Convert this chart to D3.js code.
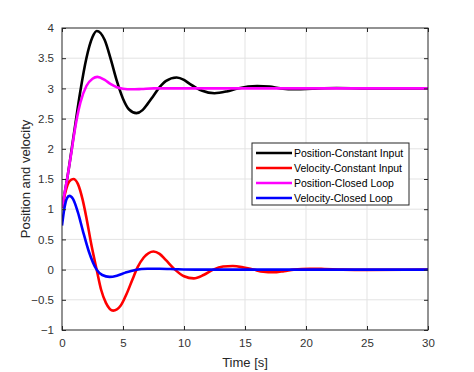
<!DOCTYPE html>
<html lang="en">
<head>
<meta charset="UTF-8">
<title>Position and velocity</title>
<script src="https://d3js.org/d3.v7.min.js"></script>
<style>
  body { margin: 0; background: #fff; }
  svg { display: block; font-family: Arial, "Liberation Sans", sans-serif; }
</style>
</head>
<body>
<svg id="chart"></svg>
<script>
// values
var posConstT = [0, 0.5, 1.0, 1.5, 2.0, 2.5, 2.85, 3.5, 4.0, 4.5, 5.0, 5.5, 6.1, 6.6, 7.0, 7.5, 8.0, 8.5, 9.4, 10.0, 10.5, 11.0, 11.5, 12.5, 13.5, 14.4, 16.0, 17.0, 17.9, 19.2, 20.5, 22.5, 25, 30];
var posConstV = [1.02, 1.6, 2.28, 2.95, 3.5, 3.85, 3.95, 3.8, 3.48, 3.12, 2.83, 2.65, 2.59, 2.64, 2.74, 2.88, 3.02, 3.12, 3.18, 3.14, 3.07, 3.01, 2.96, 2.92, 2.95, 3.0, 3.04, 3.03, 3.0, 2.985, 2.995, 3.007, 3.0, 3.0];

var velConstT = [0, 0.3, 0.6, 0.93, 1.3, 1.7, 2.0, 2.4, 2.84, 3.2, 3.6, 4.2, 4.8, 5.3, 5.8, 6.2, 6.7, 7.5, 8.0, 8.5, 9.26, 10.0, 10.8, 11.6, 12.4, 13.2, 14.0, 14.9, 15.7, 16.5, 17.3, 18.2, 19.0, 20.3, 21.5, 23, 25, 30];
var velConstV = [1.02, 1.3, 1.46, 1.5, 1.42, 1.15, 0.86, 0.42, 0.0, -0.33, -0.55, -0.68, -0.6, -0.4, -0.15, 0.04, 0.2, 0.3, 0.26, 0.16, 0.0, -0.11, -0.145, -0.09, 0.0, 0.05, 0.06, 0.035, 0.0, -0.035, -0.045, -0.025, 0.0, 0.015, 0.01, 0.0, -0.004, 0.0];

var posLoopT = [0, 0.5, 0.8, 1.0, 1.5, 2.0, 2.5, 2.9, 3.5, 4.0, 4.5, 5.0, 5.7, 6.5, 7.5, 9, 30];
var posLoopV = [1.03, 1.6, 1.98, 2.25, 2.76, 3.04, 3.16, 3.19, 3.14, 3.07, 3.02, 2.995, 2.985, 2.99, 3.0, 3.0, 3.0];

var velLoopT = [0, 0.2, 0.4, 0.6, 0.9, 1.3, 1.7, 2.2, 2.84, 3.3, 3.9, 4.5, 5.2, 6.0, 7.0, 8.0, 9.5, 11, 30];
var velLoopV = [0.73, 1.02, 1.18, 1.22, 1.17, 0.95, 0.65, 0.3, 0.0, -0.09, -0.12, -0.1, -0.05, -0.005, 0.015, 0.015, 0.005, 0.0, 0.0];

var seriesNames = ["Position-Constant Input", "Velocity-Constant Input", "Position-Closed Loop", "Velocity-Closed Loop"];
var seriesColors = ["#000000", "#ff0000", "#ff00ff", "#0000ff"];
var seriesT = [posConstT, velConstT, posLoopT, velLoopT];
var seriesV = [posConstV, velConstV, posLoopV, velLoopV];

var xTicks = [0, 5, 10, 15, 20, 25, 30];
var yTicks = [-1, -0.5, 0, 0.5, 1, 1.5, 2, 2.5, 3, 3.5, 4];

var W = 474, H = 372;
var margin = { top: 28, right: 46, bottom: 42, left: 62 };
var width = W - margin.left - margin.right,
    height = H - margin.top - margin.bottom;

var svg = d3.select("#chart").attr("width", W).attr("height", H);
var g = svg.append("g").attr("transform", "translate(" + margin.left + "," + margin.top + ")");

var x = d3.scaleLinear().domain([0, 30]).range([0, width]);
var y = d3.scaleLinear().domain([-1, 4]).range([height, 0]);

// grid
g.append("g").selectAll("line").data(xTicks.slice(1, -1)).enter().append("line")
  .attr("x1", d => x(d)).attr("x2", d => x(d)).attr("y1", 0).attr("y2", height)
  .attr("stroke", "#e3e3e3").attr("stroke-width", 1);
g.append("g").selectAll("line").data(yTicks.slice(1, -1)).enter().append("line")
  .attr("y1", d => y(d)).attr("y2", d => y(d)).attr("x1", 0).attr("x2", width)
  .attr("stroke", "#e3e3e3").attr("stroke-width", 1);

// curves
g.append("clipPath").attr("id", "clip").append("rect")
  .attr("width", width).attr("height", height);

var line = d3.line()
  .x(d => x(d[0])).y(d => y(d[1]))
  .curve(d3.curveMonotoneX);

var plot = g.append("g").attr("clip-path", "url(#clip)");
seriesT.forEach(function (ts, i) {
  var pts = ts.map((t, j) => [t, seriesV[i][j]]);
  plot.append("path").datum(pts)
    .attr("d", line)
    .attr("fill", "none")
    .attr("stroke", seriesColors[i])
    .attr("stroke-width", 2.6)
    .attr("stroke-linejoin", "round");
});

// axes (inner ticks on all sides, MATLAB style)
var axisColor = "#262626";
function styleAxis(sel) {
  sel.select(".domain").remove();
  sel.selectAll(".tick line").attr("stroke", axisColor);
  sel.selectAll(".tick text").attr("fill", "#333").style("font-size", "11.5px")
    .style("font-family", "Arial, 'Liberation Sans', sans-serif");
}
var gx = g.append("g").attr("transform", "translate(0," + height + ")")
  .call(d3.axisBottom(x).tickValues(xTicks).tickSize(-4).tickPadding(9).tickFormat(d3.format("d")));
styleAxis(gx);
var gxt = g.append("g")
  .call(d3.axisTop(x).tickValues(xTicks).tickSize(-4).tickFormat(""));
styleAxis(gxt);
var gy = g.append("g")
  .call(d3.axisLeft(y).tickValues(yTicks).tickSize(-4).tickPadding(8).tickFormat(d3.format("")));
styleAxis(gy);
var gyr = g.append("g").attr("transform", "translate(" + width + ",0)")
  .call(d3.axisRight(y).tickValues(yTicks).tickSize(-4).tickFormat(""));
styleAxis(gyr);

g.append("rect").attr("width", width).attr("height", height)
  .attr("fill", "none").attr("stroke", axisColor).attr("stroke-width", 1);

// axis labels
g.append("text")
  .attr("x", width / 2).attr("y", height + 37)
  .attr("text-anchor", "middle").attr("fill", "#262626")
  .style("font-size", "13px").text("Time [s]");
svg.append("text")
  .attr("transform", "translate(25," + (margin.top + height / 2) + ") rotate(-90)")
  .attr("text-anchor", "middle").attr("dy", "0.35em").attr("fill", "#262626")
  .style("font-size", "13px").text("Position and velocity");

// legend
var lg = svg.append("g").attr("transform", "translate(252,143)");
lg.append("rect").attr("width", 157).attr("height", 62)
  .attr("fill", "#fff").attr("stroke", axisColor).attr("stroke-width", 1);
seriesNames.forEach(function (name, i) {
  var yy = 10 + i * 15;
  lg.append("line").attr("x1", 4).attr("x2", 40).attr("y1", yy).attr("y2", yy)
    .attr("stroke", seriesColors[i]).attr("stroke-width", 2.6);
  lg.append("text").attr("x", 42).attr("y", yy).attr("dy", "0.35em")
    .attr("fill", "#000").style("font-size", "10.5px").text(name);
});
</script>
</body>
</html>
